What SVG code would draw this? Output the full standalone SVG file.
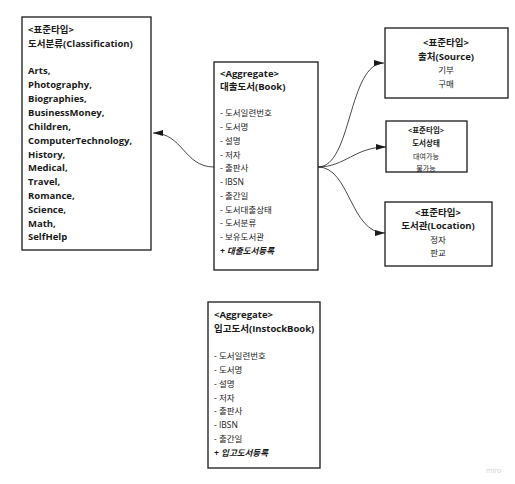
<svg xmlns="http://www.w3.org/2000/svg" width="515" height="484" viewBox="0 0 515 484">
<style>
.box{fill:#fff;stroke:#1a1a1a;stroke-width:1.3}
text{font-family:"Open Sans","Noto Sans CJK KR",sans-serif;fill:#1a1a1a}
.b{font-weight:bold;font-size:9.5px}
.r{font-size:8.5px}
.bi{font-weight:bold;font-style:italic;font-size:8.5px}
.c{text-anchor:middle}
.s{font-size:7px}
.sb{font-size:7.5px;font-weight:bold}
.conn{fill:none;stroke:#1a1a1a;stroke-width:0.8}
.wm{font-size:7px;fill:#d0d0d0}
</style>
<defs>
<marker id="arr" viewBox="0 0 10 6" refX="10" refY="3" markerWidth="10" markerHeight="6" markerUnits="userSpaceOnUse" orient="auto">
<path d="M0,0 L10,3 L0,6 Z" fill="#1a1a1a"/>
</marker>
</defs>
<rect width="515" height="484" fill="#fff"/>
<g id="connectors">
<path class="conn" d="M214,167 C184,167 183,133 153,133" marker-end="url(#arr)"/>
<path class="conn" d="M318,167 C352,167 348,63 384,63" marker-end="url(#arr)"/>
<path class="conn" d="M318,167 C345,167 355,147 386,147" marker-end="url(#arr)"/>
<path class="conn" d="M318,167 C350,167 350,233 385,233" marker-end="url(#arr)"/>
</g>
<g id="classification">
<rect class="box" x="22" y="17" width="129" height="233"/>
<text class="b" x="28" y="33">&lt;표준타입&gt;</text>
<text class="b" x="28" y="47">도서분류(Classification)</text>
<text class="b" x="28" y="74">Arts,</text>
<text class="b" x="28" y="88">Photography,</text>
<text class="b" x="28" y="102">Biographies,</text>
<text class="b" x="28" y="116">BusinessMoney,</text>
<text class="b" x="28" y="130">Children,</text>
<text class="b" x="28" y="144">ComputerTechnology,</text>
<text class="b" x="28" y="158">History,</text>
<text class="b" x="28" y="171">Medical,</text>
<text class="b" x="28" y="185">Travel,</text>
<text class="b" x="28" y="199">Romance,</text>
<text class="b" x="28" y="213">Science,</text>
<text class="b" x="28" y="227">Math,</text>
<text class="b" x="28" y="240">SelfHelp</text>
</g>
<g id="book">
<rect class="box" x="214" y="62" width="104" height="208"/>
<text class="b" x="220" y="77">&lt;Aggregate&gt;</text>
<text class="b" x="220" y="90">대출도서(Book)</text>
<text class="r" x="220" y="116">- 도서일련번호</text>
<text class="r" x="220" y="130">- 도서명</text>
<text class="r" x="220" y="144">- 설명</text>
<text class="r" x="220" y="158">- 저자</text>
<text class="r" x="220" y="171">- 출판사</text>
<text class="r" x="220" y="185">- IBSN</text>
<text class="r" x="220" y="199">- 출간일</text>
<text class="r" x="220" y="213">- 도서대출상태</text>
<text class="r" x="220" y="226">- 도서분류</text>
<text class="r" x="220" y="240">- 보유도서관</text>
<text class="bi" x="220" y="254">+ 대출도서등록</text>
</g>
<g id="source">
<rect class="box" x="385" y="28" width="123" height="70"/>
<text class="b c" x="446" y="46">&lt;표준타입&gt;</text>
<text class="b c" x="446" y="60">출처(Source)</text>
<text class="r c" x="446" y="73">기부</text>
<text class="r c" x="446" y="87">구매</text>
</g>
<g id="status">
<rect class="box" x="386" y="121" width="81" height="51"/>
<text class="sb c" x="426" y="133">&lt;표준타입&gt;</text>
<text class="sb c" x="426" y="146">도서상태</text>
<text class="s c" x="426" y="159">대여가능</text>
<text class="s c" x="426" y="171">불가능</text>
</g>
<g id="location">
<rect class="box" x="385" y="202" width="107" height="64"/>
<text class="b c" x="438" y="216">&lt;표준타입&gt;</text>
<text class="b c" x="438" y="229">도서관(Location)</text>
<text class="r c" x="438" y="243">정자</text>
<text class="r c" x="438" y="256">판교</text>
</g>
<g id="instockbook">
<rect class="box" x="208" y="302" width="112" height="166"/>
<text class="b" x="214" y="318">&lt;Aggregate&gt;</text>
<text class="b" x="214" y="332">입고도서(InstockBook)</text>
<text class="r" x="214" y="359">- 도서일련번호</text>
<text class="r" x="214" y="373">- 도서명</text>
<text class="r" x="214" y="387">- 설명</text>
<text class="r" x="214" y="401">- 저자</text>
<text class="r" x="214" y="414">- 출판사</text>
<text class="r" x="214" y="428">- IBSN</text>
<text class="r" x="214" y="442">- 출간일</text>
<text class="bi" x="214" y="456">+ 입고도서등록</text>
</g>
<text class="wm" x="486" y="473">miro</text>
</svg>
